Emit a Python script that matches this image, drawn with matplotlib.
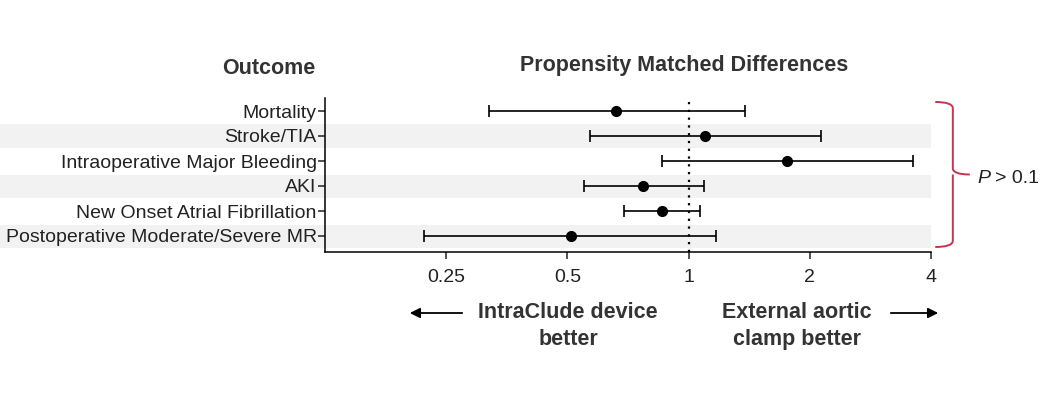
import matplotlib
matplotlib.use("Agg")
import matplotlib.pyplot as plt
from matplotlib.path import Path
from matplotlib.patches import PathPatch, FancyArrowPatch
from matplotlib.transforms import blended_transform_factory
import numpy as np

plt.rcParams['font.family'] = ['Liberation Sans', 'DejaVu Sans']

outcomes = ["Mortality", "Stroke/TIA", "Intraoperative Major Bleeding", "AKI",
            "New Onset Atrial Fibrillation", "Postoperative Moderate/Severe MR"]
estimate = [0.66, 1.10, 1.76, 0.77, 0.86, 0.51]
lower = [0.32, 0.57, 0.86, 0.55, 0.69, 0.22]
upper = [1.38, 2.13, 3.61, 1.09, 1.07, 1.17]
xticks = [0.25, 0.5, 1, 2, 4]
xticklabels = ["0.25", "0.5", "1", "2", "4"]

W, H = 1048, 397
fig = plt.figure(figsize=(W / 100, H / 100), dpi=100)
ax = fig.add_axes([325 / W, 1 - 252 / H, (931 - 325) / W, (252 - 98) / H])

n = len(outcomes)
ypos = np.arange(n)[::-1]
est = np.array(estimate)
lo = np.array(lower)
hi = np.array(upper)

# shaded alternate rows, running out under the labels
for i, y in enumerate(ypos):
    if i % 2 == 1:
        ax.axhspan(y - 0.46, y + 0.46, xmin=-325 / 606, xmax=1.0,
                   color="#f2f2f2", zorder=0, clip_on=False, lw=0)

ax.axvline(1, color="black", ls=(0, (1, 2.5)), lw=1.6, zorder=1)
ax.errorbar(est, ypos, xerr=[est - lo, hi - est], fmt="o", color="black",
            ms=7, lw=1.2, capsize=4, capthick=1.2, zorder=3)

ax.set_xscale("log", base=2)
ax.set_xlim(0.125, 4)
ax.set_ylim(-0.64, n - 1 + 0.52)
ax.set_xticks(xticks)
ax.set_xticklabels(xticklabels)
ax.minorticks_off()
ax.set_yticks(ypos)
ax.set_yticklabels(outcomes)
ax.tick_params(axis="both", labelsize=14, colors="#222222", width=1.1, length=5)
ax.tick_params(axis="x", pad=7)
ax.tick_params(axis="y", pad=1)
ax.spines["top"].set_visible(False)
ax.spines["right"].set_visible(False)
for s in ["left", "bottom"]:
    ax.spines[s].set_linewidth(1.1)
ax.patch.set_visible(False)

bold = dict(fontsize=15.5, fontweight="bold", color="#333333")

# headers
fig.text(269 / W, 1 - 68 / H, "Outcome", ha="center", va="center", **bold)
fig.text(684 / W, 1 - 66 / H, "Propensity Matched Differences", ha="center",
         va="center", **bold)

# direction notes
fig.text(568 / W, 1 - 326 / H, "IntraClude device\nbetter", ha="center",
         va="center", linespacing=1.35, **bold)
fig.text(797 / W, 1 - 326 / H, "External aortic\nclamp better", ha="center",
         va="center", linespacing=1.35, **bold)
fig.patches.append(FancyArrowPatch(
    (465 / W, 1 - 313 / H), (407 / W, 1 - 313 / H), transform=fig.transFigure,
    arrowstyle="-|>,head_length=6,head_width=3", color="black", lw=1.3))
fig.patches.append(FancyArrowPatch(
    (888 / W, 1 - 313 / H), (941 / W, 1 - 313 / H), transform=fig.transFigure,
    arrowstyle="-|>,head_length=6,head_width=3", color="black", lw=1.3))

# brace on the right
tr = blended_transform_factory(ax.transAxes, ax.transData)
ytop, ybot = n - 1 + 0.36, -0.44
ymid = (ytop + ybot) / 2
x0, x1, x2 = 1.007, 1.036, 1.064
r = 0.25
verts = [(x0, ytop), (x1, ytop), (x1, ytop - r),
         (x1, ymid + r), (x1, ymid), (x2, ymid),
         (x1, ymid), (x1, ymid - r),
         (x1, ybot + r), (x1, ybot), (x0, ybot)]
codes = [Path.MOVETO, Path.CURVE3, Path.CURVE3,
         Path.LINETO, Path.CURVE3, Path.CURVE3,
         Path.MOVETO, Path.CURVE3,
         Path.LINETO, Path.CURVE3, Path.CURVE3]
ax.add_patch(PathPatch(Path(verts, codes), transform=tr, fill=False,
                       edgecolor="#c8334f", lw=1.4, clip_on=False))

fig.text(977 / W, 1 - 178 / H, "P", fontstyle="italic", ha="left", va="center",
         fontsize=14, color="#222222")
fig.text(995 / W, 1 - 178 / H, "> 0.1", ha="left", va="center",
         fontsize=14, color="#222222")

fig.savefig("out.png", dpi=100)
